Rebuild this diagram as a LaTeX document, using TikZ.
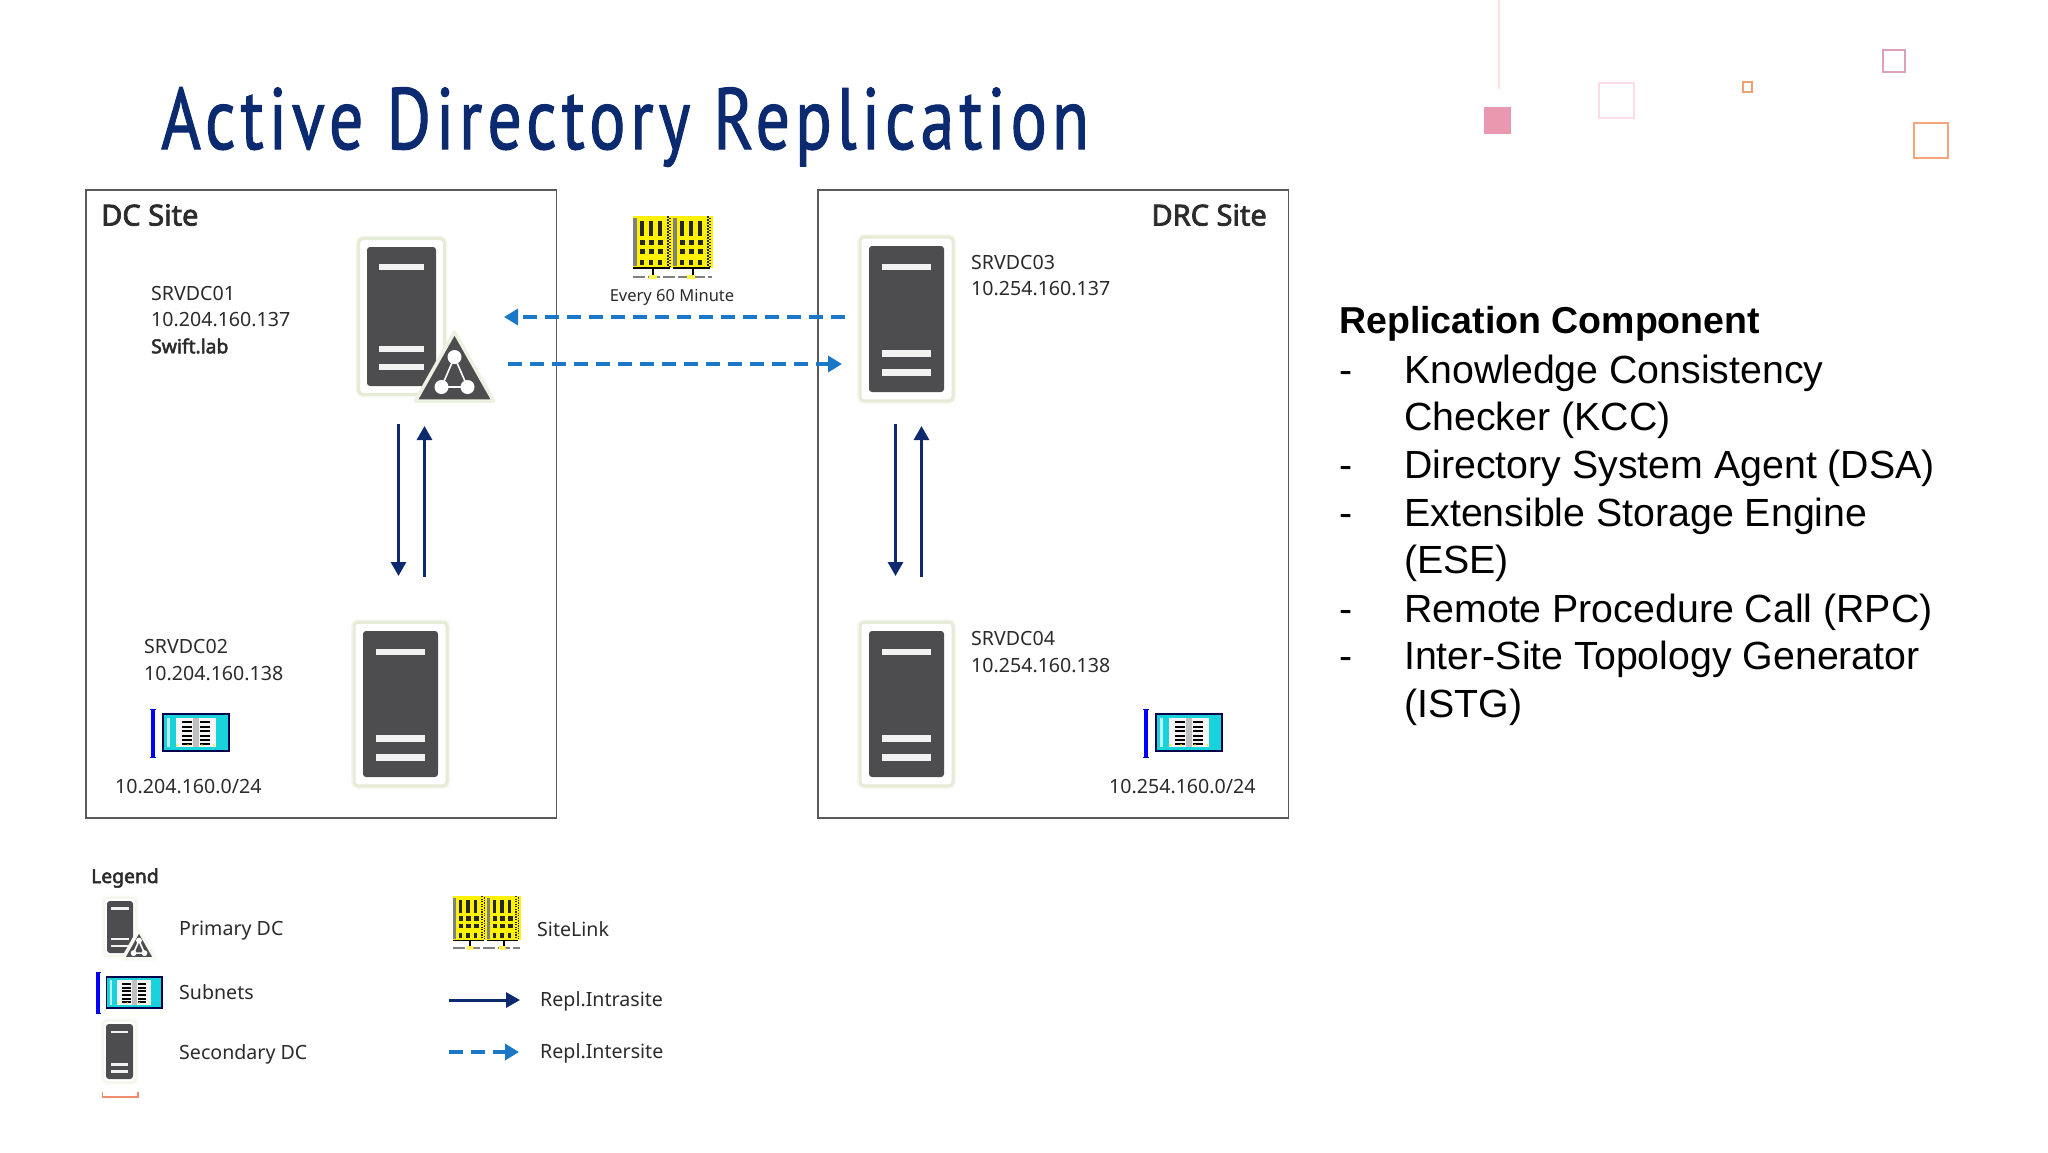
\documentclass[tikz,border=0pt]{standalone}
\usetikzlibrary{arrows.meta}
\usepackage{fontspec}
\setmainfont{Noto Sans}
\newfontfamily\titlefont[FakeStretch=0.78,LetterSpace=5.8,FakeBold=1.2]{PT Sans}
\newfontfamily\listfont{Liberation Sans}
\newfontfamily\lblbold[FakeBold=2.6]{Noto Sans}
\definecolor{navyT}{HTML}{0B2A6F}
\definecolor{arrowNavy}{HTML}{0E2A6E}
\definecolor{arrowBlue}{HTML}{1B78C6}
\definecolor{srvDark}{HTML}{4D4D4F}
\definecolor{haloC}{HTML}{E6EBD5}
\definecolor{boxC}{HTML}{58595B}
\definecolor{txtC}{HTML}{2B2B2B}
\definecolor{subCyan}{HTML}{19D3DC}
\tikzset{
  site/.style={draw=boxC,line width=1.6pt,fill=white},
  intra/.style={draw=arrowNavy,line width=3pt,-{Triangle[length=14pt,width=15pt]}},
  inter/.style={draw=arrowBlue,line width=3.4pt,dash pattern=on 14pt off 8pt,-{Triangle[length=14pt,width=16pt]}},
  lbl/.style={inner sep=0pt,anchor=west,text=txtC,font=\fontsize{19.6}{19.6}\selectfont},
  lblb/.style={lbl,font=\lblbold\fontsize{19.3}{19.3}\selectfont},
  head/.style={inner sep=0pt,text=txtC,font=\lblbold\fontsize{29}{29}\selectfont},
  listtxt/.style={inner sep=0pt,anchor=west,text=black,font=\listfont\fontsize{39.3}{39.3}\selectfont},
  deco/.style={line width=2pt,fill=none}
}
% server icon: unit box 100 x 100 (body) at x,y with scale sx,sy
\newcommand{\srvicon}[6]{%name x y sx sy halo-width
  \begin{scope}[shift={(#2,#3)},xscale=#4,yscale=#5]
    \path[fill=white,draw=haloC!35!white,line width=#6pt+3pt,rounded corners=4pt] (-12,-6) rectangle (112,106);
    \path[fill=white,draw=haloC,line width=#6pt,rounded corners=4pt] (-12,-6) rectangle (112,106);
    \node[fill=srvDark,inner sep=0pt,rounded corners=3pt,minimum width=#4*100pt,minimum height=#5*100pt] (#1) at (50,50) {};
    \foreach \yy in {14.5,73.5,86.5}{\fill[white!90!gray] (17,\yy-2.2) rectangle (83,\yy+2.2);}
  \end{scope}}
% triangle badge
\newcommand{\tribadge}[3]{%x y scale ; apex at x,y
  \begin{scope}[shift={(#1,#2)},scale=#3]
    \path[fill=srvDark,draw=haloC!70!white,line width=3.5pt,line join=round] (0,0) -- (39,69) -- (-39,69) -- cycle;
    \draw[white,line width=1.6pt] (0,25) -- (-13,55) -- (13,55) -- cycle;
    \fill[white] (0,25) circle (7) (-13,55) circle (7) (13,55) circle (7);
  \end{scope}}
% sitelink icon: 80 x 64 unit
\newcommand{\bldg}[1]{%
  \begin{scope}[shift={(#1,0)}]
    \fill[yellow] (0,0) rectangle (39.5,52);
    \fill[gray] (0,2) rectangle (3.5,50);
    \foreach \xx in {6.5,15.5,24.5}{
      \fill[black!85] (\xx,5) rectangle (\xx+4,20);
      \fill[black!85] (\xx,24) rectangle (\xx+5.5,29);
      \fill[black!85] (\xx,33) rectangle (\xx+5.5,38);
      \fill[black!85] (\xx,44) rectangle (\xx+4,49);}
    \foreach \yy in {0,3,...,48}{
      \fill[black!85] (33.5,\yy) rectangle (35.5,\yy+1.5);
      \fill[black!85] (36,\yy+1.5) rectangle (38,\yy+3);}
    \draw[black,line width=1.2pt] (0,52) -- (37,52);
    \draw[black,line width=1.2pt] (20,52) -- (20,60);
  \end{scope}}
\newcommand{\sitelink}[3]{%x y scale
  \begin{scope}[shift={(#1,#2)},scale=#3]
    \bldg{0}\bldg{40}
    \draw[gray,line width=1.6pt,dash pattern=on 12pt off 3pt] (0,61) -- (79,61);
    \fill[yellow!70!white] (16,59) rectangle (24,63) (54,59) rectangle (62,63);
  \end{scope}}
% subnet icon: bar + 66 x 37 rect
\newcommand{\subnet}[3]{%x y scale ; x,y = top-left of rect
  \begin{scope}[shift={(#1,#2)},scale=#3]
    \draw[blue,line width=4.5pt] (-10,-5) -- (-10,43);
    \draw[blue!80!black,line width=1pt] (-13,-5) -- (-7,-5) (-13,43) -- (-7,43);
    \path[fill=subCyan,draw=black!70!blue,line width=1.6pt] (0,0) rectangle (66,37);
    \fill[white!92!gray] (13,4) rectangle (53,33);
    \fill[white!70!subCyan] (4,4) rectangle (7,33);
    \fill[gray!50] (30,4) rectangle (36,33);
    \foreach \yy in {7,11.5,16,20.5,25,29}{
      \fill[black] (19,\yy) rectangle (29,\yy+2.2);
      \fill[black] (37,\yy) rectangle (47,\yy+2.2);}
    \fill[yellow!80!orange] (14,31) circle (1) (25,31) circle (1) (39,31) circle (1) (51,31) circle (1);
  \end{scope}}
\begin{document}
\begin{tikzpicture}[x=1pt,y=-1pt]
\useasboundingbox (0,0) rectangle (2048,1152);
\fill[white] (0,0) rectangle (2048,1152);

% decorations
\draw[draw=pink!50,line width=1.4pt] (1499,0) -- (1499,89);
\fill[fill={rgb,255:red,232;green,153;blue,175}] (1484,107) rectangle (1511,134);
\draw[deco,draw={rgb,255:red,252;green,220;blue,230}] (1599,83) rectangle (1634,118);
\draw[deco,draw={rgb,255:red,240;green,160;blue,112}] (1743,82) rectangle (1752,92);
\draw[deco,draw={rgb,255:red,221;green,160;blue,188}] (1883,50) rectangle (1905,72);
\draw[deco,draw={rgb,255:red,249;green,165;blue,124}] (1914,123) rectangle (1948,158);

% title
\node[inner sep=0pt,anchor=base west,text=navyT,font=\titlefont\fontsize{87}{87}\selectfont] (title) at (161,149) {Active Directory Replication};

% site boxes
\path[site] (86,190) rectangle (556.5,818);
\path[site] (818,190) rectangle (1288.5,818);
\node[head,anchor=west] (dcsite) at (101,215) {DC Site};
\node[head,anchor=east] (drcsite) at (1267,215) {DRC Site};

% servers
\srvicon{s1}{367}{247}{0.69}{1.39}{3}
\srvicon{s2}{363}{631}{0.75}{1.46}{3}
\srvicon{s3}{869}{246}{0.75}{1.46}{3}
\srvicon{s4}{869}{631}{0.75}{1.46}{3}
\tribadge{454.5}{332}{1}

% arrows
\coordinate (i1a) at (845,317); \coordinate (i1b) at (504,317);
\coordinate (i2a) at (508,364); \coordinate (i2b) at (842,364);
\draw[inter] (i1a) -- (i1b);
\draw[inter] (i2a) -- (i2b);
\coordinate (a1) at (398.5,424); \coordinate (a2) at (398.5,576);
\coordinate (a3) at (424.5,577); \coordinate (a4) at (424.5,426);
\draw[intra] (a1) -- (a2);
\draw[intra] (a3) -- (a4);
\coordinate (b1) at (895.5,424); \coordinate (b2) at (895.5,576);
\coordinate (b3) at (921.5,577); \coordinate (b4) at (921.5,426);
\draw[intra] (b1) -- (b2);
\draw[intra] (b3) -- (b4);

% site link
\sitelink{633}{216}{1}
\node[lbl,anchor=center,font=\fontsize{16.5}{16.5}\selectfont] (every) at (672,297.5) {Every 60 Minute};

% server labels
\node[lbl] (n1a) at (151,293) {SRVDC01};
\node[lbl] (n1b) at (151,320) {10.204.160.137};
\node[lblb] (n1c) at (151,346) {Swift.lab};
\node[lbl] (n2a) at (144,646) {SRVDC02};
\node[lbl] (n2b) at (144,673.5) {10.204.160.138};
\node[lbl] (n2c) at (115,787) {10.204.160.0/24};
\node[lbl] (n3a) at (971,262) {SRVDC03};
\node[lbl] (n3b) at (971,289) {10.254.160.137};
\node[lbl] (n4a) at (971,638) {SRVDC04};
\node[lbl] (n4b) at (971,665.5) {10.254.160.138};
\node[lbl] (n4c) at (1109,787) {10.254.160.0/24};

% subnets
\subnet{163}{714}{1}
\subnet{1156}{714}{1}

% legend
\node[lblb] (leg) at (91,878) {Legend};
\begin{scope}
\colorlet{haloC}{haloC!45!white}
\srvicon{l1}{107}{901}{0.26}{0.52}{2}
\tribadge{139}{930}{0.42}
\srvicon{l3}{106}{1024}{0.27}{0.55}{2}
\end{scope}
\subnet{106.5}{977}{0.84}
\sitelink{453}{896}{0.85}
\draw[draw={rgb,255:red,240;green,140;blue,110},line width=1.4pt] (102.5,1092) -- (102.5,1097) -- (138,1097) -- (138,1092);
\node[lbl] (t1) at (179,930.5) {Primary DC};
\node[lbl] (t2) at (179,992) {Subnets};
\node[lbl] (t3) at (179,1054) {Secondary DC};
\node[lbl] (t4) at (537,929) {SiteLink};
\node[lbl] (t5) at (540,1001.5) {Repl.Intrasite};
\node[lbl] (t6) at (540,1053.5) {Repl.Intersite};
\coordinate (la) at (449,1000); \coordinate (lb) at (520,1000);
\coordinate (lc) at (449,1052); \coordinate (ld) at (519,1052);
\draw[intra] (la) -- (lb);
\draw[inter] (lc) -- (ld);

% right list
\node[listtxt,font=\listfont\bfseries\fontsize{37.5}{37.5}\selectfont] (h) at (1339,324) {Replication Component};
\foreach \nm/\yy/\dd/\tx in {
 a/373/-/Knowledge Consistency,
 b/420//Checker (KCC),
 c/468/-/Directory System Agent (DSA),
 d/516/-/Extensible Storage Engine,
 e/563//(ESE),
 f/612/-/Remote Procedure Call (RPC),
 g/659/-/Inter-Site Topology Generator,
 h/707//(ISTG)}{
  \node[listtxt] (l\nm) at (1404,\yy) {\tx};
  \node[listtxt,yshift=-5pt] (d\nm) at (1339,\yy) {\dd};
}
\end{tikzpicture}
\end{document}
